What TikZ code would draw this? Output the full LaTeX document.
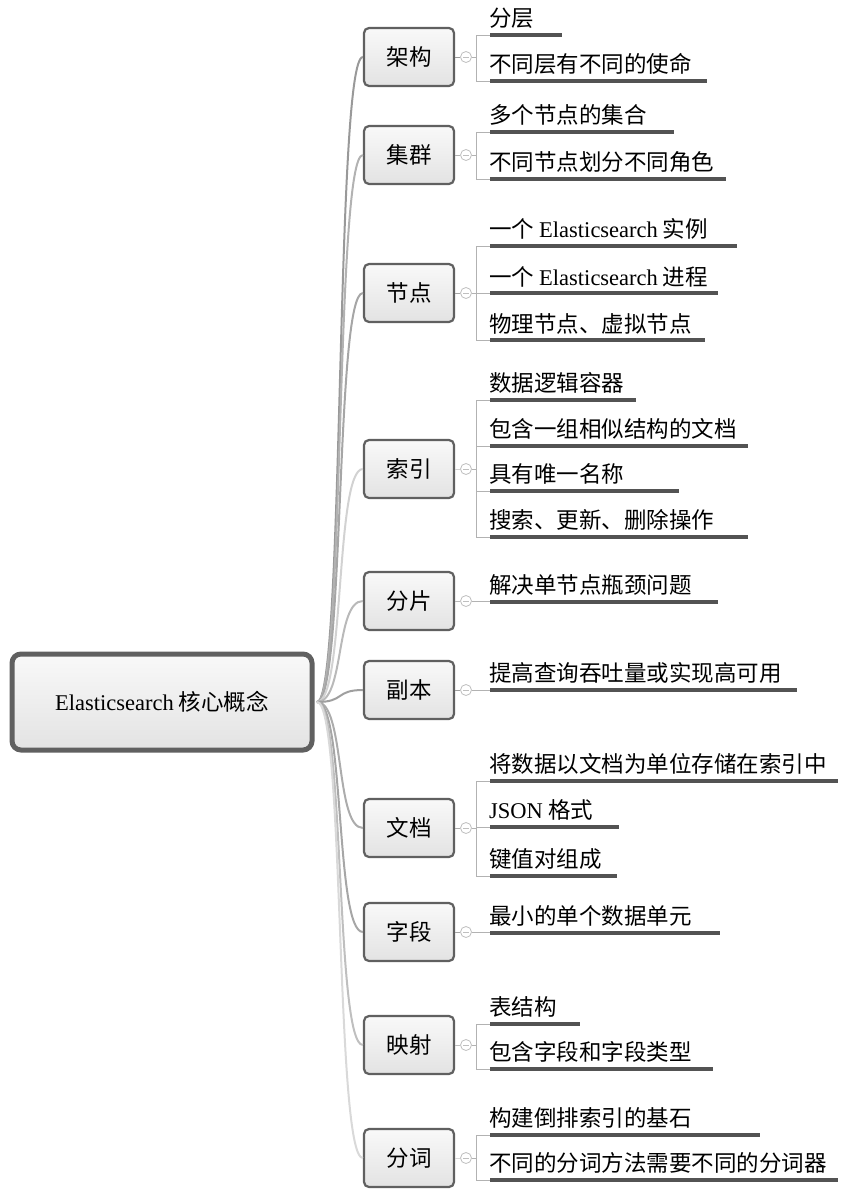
\documentclass[tikz,border=0pt]{standalone}
\usepackage{fontspec}
\setmainfont{Noto Sans CJK SC}
\newfontfamily\latf{Liberation Serif}
\newcommand{\La}[1]{{\latf #1}}
\begin{document}
\begin{tikzpicture}[x=1pt,y=-1pt,
  every node/.style={font=\fontsize{22.5}{26}\selectfont},
  topic/.style={draw=gray!75!black,line width=2.2pt,rounded corners=5pt,top color=gray!5,bottom color=gray!22,minimum width=90,minimum height=58,inner sep=0},
  root/.style={draw=gray!75!black,line width=5pt,rounded corners=9pt,top color=gray!5,bottom color=gray!22,minimum width=300,minimum height=96},
  leaf/.style={anchor=south west,inner sep=1pt},
  ul/.style={line width=3.5pt,draw=gray!65!black},
  br/.style={draw=gray!60,line width=0.8pt},
  tog/.style={circle,draw=gray!50,fill=white,minimum size=11,inner sep=0,line width=0.8pt},
  conn/.style={line width=2pt}]
\useasboundingbox (0,0) rectangle (865,1199);
\node[root] (R) at (162,702) {\La{Elasticsearch} 核心概念};
\coordinate (Rr) at (317,702);
\def\mk#1#2#3#4{%
 \node[topic] (#1) at (409,#2) {#3};
 \draw[conn,draw=#4] (Rr) .. controls (345,702) and (335,#2) .. (#1.west);
 \node[tog] (#1t) at (466,#2) {};
 \draw[gray!50,line width=0.8pt] ([xshift=-3]#1t.center) -- ([xshift=3]#1t.center);
 \draw[conn,draw=#4,line width=0.8pt] (#1.east) -- (#1t.west);
}
\mk{a}{57}{架构}{gray!80}
\mk{b}{155}{集群}{gray!60}
\mk{c}{293}{节点}{gray!70}
\mk{d}{469}{索引}{gray!35}
\mk{e}{601}{分片}{gray!55}
\mk{f}{690}{副本}{gray!75}
\mk{g}{828}{文档}{gray!65}
\mk{h}{932}{字段}{gray!70}
\mk{i}{1045}{映射}{gray!50}
\mk{j}{1158}{分词}{gray!30}
\def\lf#1#2#3#4{%
 \node[leaf] (#1) at (488,#2-5) {#4};
 \draw[ul] (490,#2) -- (#3,#2);
}
\lf{a1}{35}{562}{分层}
\lf{a2}{81}{707}{不同层有不同的使命}
\lf{b1}{132}{674}{多个节点的集合}
\lf{b2}{179}{726}{不同节点划分不同角色}
\lf{c1}{246}{737}{一个 \La{Elasticsearch} 实例}
\lf{c2}{293}{718}{一个 \La{Elasticsearch} 进程}
\lf{c3}{340}{705}{物理节点、虚拟节点}
\lf{d1}{400}{636}{数据逻辑容器}
\lf{d2}{446}{748}{包含一组相似结构的文档}
\lf{d3}{491}{679}{具有唯一名称}
\lf{d4}{537}{748}{搜索、更新、删除操作}
\lf{e1}{602}{718}{解决单节点瓶颈问题}
\lf{f1}{690}{797}{提高查询吞吐量或实现高可用}
\lf{g1}{781}{838}{将数据以文档为单位存储在索引中}
\lf{g2}{827}{619}{\La{JSON} 格式}
\lf{g3}{876}{617}{键值对组成}
\lf{h1}{933}{720}{最小的单个数据单元}
\lf{i1}{1024}{580}{表结构}
\lf{i2}{1069}{713}{包含字段和字段类型}
\lf{j1}{1135}{760}{构建倒排索引的基石}
\lf{j2}{1180}{838}{不同的分词方法需要不同的分词器}
\draw[br] (490,35) -| (476,81) -- (490,81); \draw[br] (at.east) -- (476,57);
\draw[br] (490,132) -| (476,179) -- (490,179); \draw[br] (bt.east) -- (476,155);
\draw[br] (490,246) -| (476,340) -- (490,340); \draw[br] (476,293) -- (490,293); \draw[br] (ct.east) -- (476,293);
\draw[br] (490,400) -| (476,537) -- (490,537); \draw[br] (476,446) -- (490,446); \draw[br] (476,491) -- (490,491); \draw[br] (dt.east) -- (476,469);
\draw[br] (et.east) -- (490,601);
\draw[br] (ft.east) -- (490,690);
\draw[br] (490,781) -| (476,876) -- (490,876); \draw[br] (476,827) -- (490,827); \draw[br] (gt.east) -- (476,828);
\draw[br] (ht.east) -- (490,932);
\draw[br] (490,1024) -| (476,1069) -- (490,1069); \draw[br] (it.east) -- (476,1045);
\draw[br] (490,1135) -| (476,1180) -- (490,1180); \draw[br] (jt.east) -- (476,1158);
\end{tikzpicture}
\end{document}
